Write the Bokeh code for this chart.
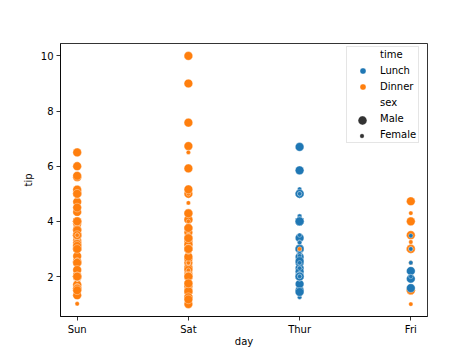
from bokeh.plotting import figure
from bokeh.models import (ColumnDataSource, Range1d, FixedTicker, Legend, LegendItem)
from bokeh.embed import file_html
from bokeh.resources import INLINE

# Restaurant tips: one row per party (tip, sex of payer, day, meal time)
tip = [
    1.01, 1.66, 3.5, 3.31, 3.61, 4.71, 2.0, 3.12, 1.96, 3.23,
    1.71, 5.0, 1.57, 3.0, 3.02, 3.92, 1.67, 3.71, 3.5, 3.35,
    4.08, 2.75, 2.23, 7.58, 3.18, 2.34, 2.0, 2.0, 4.3, 3.0,
    1.45, 2.5, 3.0, 2.45, 3.27, 3.6, 2.0, 3.07, 2.31, 5.0,
    2.24, 2.54, 3.06, 1.32, 5.6, 3.0, 5.0, 6.0, 2.05, 3.0,
    2.5, 2.6, 5.2, 1.56, 4.34, 3.51, 3.0, 1.5, 1.76, 6.73,
    3.21, 2.0, 1.98, 3.76, 2.64, 3.15, 2.47, 1.0, 2.01, 2.09,
    1.97, 3.0, 3.14, 5.0, 2.2, 1.25, 3.08, 4.0, 3.0, 2.71,
    3.0, 3.4, 1.83, 5.0, 2.03, 5.17, 2.0, 4.0, 5.85, 3.0,
    3.0, 3.5, 1.0, 4.3, 3.25, 4.73, 4.0, 1.5, 3.0, 1.5,
    2.5, 3.0, 2.5, 3.48, 4.08, 1.64, 4.06, 4.29, 3.76, 4.0,
    3.0, 1.0, 4.0, 2.55, 4.0, 3.5, 5.07, 1.5, 1.8, 2.92,
    2.31, 1.68, 2.5, 2.0, 2.52, 4.2, 1.48, 2.0, 2.0, 2.18,
    1.5, 2.83, 1.5, 2.0, 3.25, 1.25, 2.0, 2.0, 2.0, 2.75,
    3.5, 6.7, 5.0, 5.0, 2.3, 1.5, 1.36, 1.63, 1.73, 2.0,
    2.5, 2.0, 2.74, 2.0, 2.0, 5.14, 5.0, 3.75, 2.61, 2.0,
    3.5, 2.5, 2.0, 2.0, 3.0, 3.48, 2.24, 4.5, 1.61, 2.0,
    10.0, 3.16, 5.15, 3.18, 4.0, 3.11, 2.0, 2.0, 4.0, 3.55,
    3.68, 5.65, 3.5, 6.5, 3.0, 5.0, 3.5, 2.0, 3.5, 4.0,
    1.5, 4.19, 2.56, 2.02, 4.0, 1.44, 2.0, 5.0, 2.0, 2.0,
    4.0, 2.01, 2.0, 2.5, 4.0, 3.23, 3.41, 3.0, 2.03, 2.23,
    2.0, 5.16, 9.0, 2.5, 6.5, 1.1, 3.0, 1.5, 1.44, 3.09,
    2.2, 3.48, 1.92, 3.0, 1.58, 2.5, 2.0, 3.0, 2.72, 2.88,
    2.0, 3.0, 3.39, 1.47, 3.0, 1.25, 1.0, 1.17, 4.67, 5.92,
    2.0, 2.0, 1.75, 3.0,
]

sex = """
F M M M F M M M M M  M F M M F M F M F M  M F F M M M M M M F  M M F F M M M F M M
M M M M M M M M M M  M F F M M M M F M M  M M M M M M F F M M  M F F F F M M M M M
M M F M M F M M M M  M M F F F M M M M M  F F F F F M M M M F  M F M M F F M F F F
M F M M F F M F F M  M F F F F F F F M F  F M M F F F F F M M  M M M M M F M F F M
M M F M F M M M F F  M M M M M M M M F M  M M M M M M F M F M  M F M M M M M F F M
M F F F M F M M M F  M M M F F F M M M F  M F M F M F F M M F  M M M M M M M M F M
F M M F
""".split()

day = """
Sun Sun Sun Sun Sun Sun Sun Sun Sun Sun  Sun Sun Sun Sun Sun Sun Sun Sun Sun Sat
Sat Sat Sat Sat Sat Sat Sat Sat Sat Sat  Sat Sat Sat Sat Sat Sat Sat Sat Sat Sat
Sat Sun Sun Sun Sun Sun Sun Sun Sun Sun  Sun Sun Sun Sun Sun Sun Sat Sat Sat Sat
Sat Sat Sat Sat Sat Sat Sat Sat Sat Sat  Sat Sat Sat Sat Sat Sat Sat Thur Thur Thur
Thur Thur Thur Thur Thur Thur Thur Thur Thur Thur  Fri Fri Fri Fri Fri Fri Fri Fri Fri Fri
Fri Fri Sat Sat Sat Sat Sat Sat Sat Sat  Sat Sat Sun Sun Sun Sun Sun Thur Thur Thur
Thur Thur Thur Thur Thur Thur Thur Thur Thur Thur  Thur Thur Thur Thur Thur Thur Thur Thur Thur Thur
Thur Thur Thur Thur Thur Thur Thur Thur Thur Thur  Sun Sun Sun Sun Sun Sun Sun Sun Sun Sun
Sun Sun Sun Sun Sun Sun Sun Sun Sat Sat  Sat Sat Sun Sun Sun Sun Sun Sun Sun Sun
Sun Sun Sun Sun Sun Sun Sun Sun Sun Sun  Sun Thur Thur Thur Thur Thur Thur Thur Thur Thur
Thur Thur Thur Thur Thur Thur Sat Sat Sat Sat  Sat Sat Sat Sat Sat Sat Sat Sat Sat Sat
Fri Fri Fri Fri Fri Fri Fri Sat Sat Sat  Sat Sat Sat Sat Sat Sat Sat Sat Sat Sat
Sat Sat Sat Thur
""".split()

time = """
D D D D D D D D D D  D D D D D D D D D D  D D D D D D D D D D  D D D D D D D D D D
D D D D D D D D D D  D D D D D D D D D D  D D D D D D D D D D  D D D D D D D L L L
L L L L L L L L L L  D D D D D D D D D D  D D D D D D D D D D  D D D D D D D L L L
L L L L L L L L L L  L L L L L L L L L L  L L L L L L L L L L  D D D D D D D D D D
D D D D D D D D D D  D D D D D D D D D D  D D D D D D D D D D  D L L L L L L L L L
L L L L L L D D D D  D D D D D D D D D D  L L L L L L L D D D  D D D D D D D D D D
D D D D
""".split()

day_order = ["Sun", "Sat", "Thur", "Fri"]
time_names = {"L": "Lunch", "D": "Dinner"}
sex_names = {"M": "Male", "F": "Female"}
time_colors = {"Lunch": "#1f77b4", "Dinner": "#ff7f0e"}
sex_sizes = {"Male": 8.7, "Female": 4.4}

n = min(len(tip), len(sex), len(day), len(time))
times = [time_names[t] for t in time[:n]]
sexes = [sex_names[s] for s in sex[:n]]
source = ColumnDataSource(dict(
    x=[day_order.index(d) for d in day[:n]],
    tip=tip[:n],
    time=times,
    sex=sexes,
    color=[time_colors[t] for t in times],
    size=[sex_sizes[s] for s in sexes],
))

FONT = "DejaVu Sans"
FS = "10px"

p = figure(width=474, height=355, output_backend="svg", toolbar_location=None,
           x_range=Range1d(-0.15, 3.15), y_range=Range1d(0.55, 10.45),
           min_border_left=60, min_border_right=47,
           min_border_top=43, min_border_bottom=39)
p.background_fill_color = "white"
p.border_fill_color = "white"
p.outline_line_color = "black"
p.outline_line_width = 0.8
p.grid.visible = False

p.scatter("x", "tip", source=source, size="size", fill_color="color",
          line_color="white", line_width=0.35)

for ax in (p.xaxis[0], p.yaxis[0]):
    ax.axis_line_color = "black"
    ax.axis_line_width = 0.8
    ax.major_tick_line_color = "black"
    ax.major_tick_line_width = 0.8
    ax.major_tick_in = 0
    ax.major_tick_out = 4
    ax.minor_tick_line_color = None
    ax.major_label_text_font = FONT
    ax.major_label_text_font_size = FS
    ax.major_label_text_color = "black"
    ax.axis_label_text_font = FONT
    ax.axis_label_text_font_size = FS
    ax.axis_label_text_font_style = "normal"
    ax.axis_label_text_color = "black"
    ax.major_label_standoff = 3

p.xaxis.ticker = FixedTicker(ticks=list(range(len(day_order))))
p.xaxis.major_label_overrides = {i: d for i, d in enumerate(day_order)}
p.xaxis.axis_label = "day"
p.xaxis.axis_label_standoff = -2
p.yaxis.ticker = FixedTicker(ticks=[2, 4, 6, 8, 10])
p.yaxis.axis_label = "tip"
p.yaxis.axis_label_standoff = 4

# Legend-only renderers: one unplottable (NaN) point each, so nothing shows
# in the data area but the legend still has a glyph to draw.
nan = float("nan")
blank = p.scatter(x=[nan], y=[nan], fill_alpha=0, line_alpha=0)
lunch = p.scatter(x=[nan], y=[nan], fill_color=time_colors["Lunch"],
                  line_color="white", line_width=0.3)
dinner = p.scatter(x=[nan], y=[nan], fill_color=time_colors["Dinner"],
                   line_color="white", line_width=0.3)
male = p.scatter(x=[nan], y=[nan], fill_color="#333333",
                 line_color="white", line_width=0.3)
female = p.scatter(x=[nan], y=[nan], fill_color="#333333",
                   line_color="white", line_width=0.3)

legend = Legend(items=[
    LegendItem(label="time", renderers=[blank]),
    LegendItem(label="Lunch", renderers=[lunch]),
    LegendItem(label="Dinner", renderers=[dinner]),
    LegendItem(label="sex", renderers=[blank]),
    LegendItem(label="Male", renderers=[blank]),
    LegendItem(label="Female", renderers=[blank]),
], location=(286, 173))
legend.glyph_width = 31
legend.glyph_height = 15
legend.label_height = 15
legend.label_width = 38
legend.label_standoff = 2
legend.spacing = 1
legend.padding = 0
legend.margin = 0
legend.label_text_font = FONT
legend.label_text_font_size = FS
legend.label_text_color = "black"
legend.border_line_color = "#cccccc"
legend.border_line_width = 1
legend.background_fill_color = "white"
legend.background_fill_alpha = 0.8
p.add_layout(legend, "center")


def size_swatch(renderer, glyph, loc):
    # a bare marker cell laid over the legend row, sized by the glyph box
    sw = Legend(items=[LegendItem(label=" ", renderers=[renderer])], location=loc)
    sw.glyph_width = glyph
    sw.glyph_height = glyph
    sw.label_height = 1
    sw.label_width = 0
    sw.label_standoff = 0
    sw.label_text_font_size = "1px"
    sw.padding = 0
    sw.margin = 0
    sw.spacing = 0
    sw.border_line_alpha = 0
    sw.background_fill_alpha = 0
    return sw


p.add_layout(size_swatch(male, 22, (291, 185)), "center")
p.add_layout(size_swatch(female, 11, (296, 175)), "center")

open("out.html", "w").write(file_html(p, INLINE))
